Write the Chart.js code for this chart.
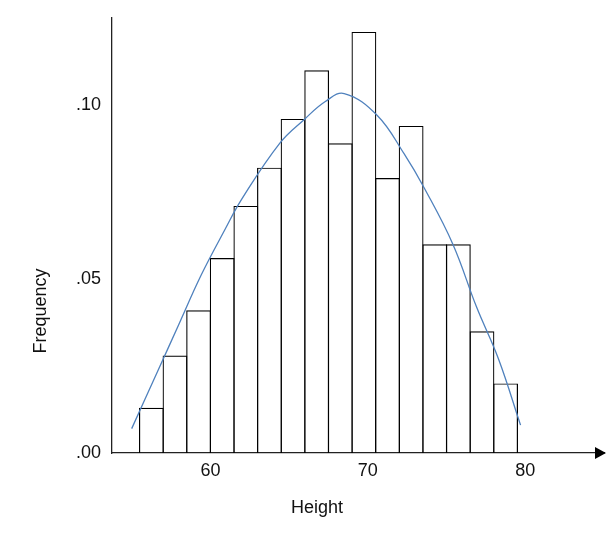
<!DOCTYPE html>
<html>
<head>
<meta charset="utf-8">
<script src="https://cdn.jsdelivr.net/npm/chart.js@4/dist/chart.umd.min.js"></script>
<style>
  html, body { margin: 0; padding: 0; background: #fff; }
  #wrap { width: 615px; height: 537px; }
</style>
</head>
<body>
<div id="wrap"><canvas id="hist" width="615" height="537"></canvas></div>
<script>
// ── Data ──────────────────────────────────────────────────────
const binCenters  = [56.25, 57.75, 59.25, 60.75, 62.25, 63.75, 65.25, 66.75,
                     68.25, 69.75, 71.25, 72.75, 74.25, 75.75, 77.25, 78.75];
const frequencies = [0.013, 0.028, 0.041, 0.056, 0.071, 0.082, 0.096, 0.110,
                     0.089, 0.121, 0.079, 0.094, 0.060, 0.060, 0.035, 0.020];

// fitted normal curve, sampled by eye
const curveX = [55.0, 56.7, 58.0, 59.4, 60.9, 62.0, 64.4, 66.0, 67.3,
                68.5, 70.6, 72.3, 73.6, 75.4, 76.9, 78.3, 79.7];
const curveY = [0.007, 0.024, 0.037, 0.051, 0.064, 0.073, 0.089, 0.096, 0.101,
                0.1033, 0.097, 0.086, 0.076, 0.060, 0.042, 0.027, 0.008];

const xTicks = [60, 70, 80];
const yTicks = [0, 0.05, 0.10];

const FONT = { family: '"Liberation Sans", Arial, sans-serif', size: 18 };

// ── Arrow head + axis titles ──────────────────────────────────
const extras = {
  id: 'extras',
  afterDraw(chart) {
    const { ctx, chartArea } = chart;
    const y = chartArea.bottom;
    const x = chartArea.right;
    ctx.save();
    ctx.fillStyle = '#000';
    ctx.beginPath();
    ctx.moveTo(x + 2, y);
    ctx.lineTo(x - 9, y - 6);
    ctx.lineTo(x - 9, y + 6);
    ctx.closePath();
    ctx.fill();

    ctx.font = `${FONT.size}px ${FONT.family}`;
    ctx.fillStyle = '#111';
    ctx.textAlign = 'center';
    ctx.textBaseline = 'middle';
    ctx.fillText('Height', 317, 508);

    ctx.translate(41, 311);
    ctx.rotate(-Math.PI / 2);
    ctx.fillText('Frequency', 0, 0);
    ctx.restore();
  }
};

new Chart(document.getElementById('hist').getContext('2d'), {
  type: 'bar',
  data: {
    datasets: [
      {
        type: 'line',
        data: curveX.map((x, i) => ({ x, y: curveY[i] })),
        borderColor: '#4f81bd',
        borderWidth: 1.3,
        pointRadius: 0,
        fill: false,
        tension: 0.4,
        order: 0,
      },
      {
        data: binCenters.map((x, i) => ({ x, y: frequencies[i] })),
        backgroundColor: 'rgba(0,0,0,0)',
        borderColor: '#000',
        borderWidth: 1.2,
        categoryPercentage: 1,
        barPercentage: 1.05,
        order: 1,
      },
    ],
  },
  options: {
    responsive: false,
    animation: false,
    layout: { padding: { top: 18, right: 11, left: 0, bottom: 0 } },
    plugins: { legend: { display: false }, tooltip: { enabled: false } },
    scales: {
      x: {
        type: 'linear',
        min: 53.75, max: 85,
        offset: false,
        grid: { display: false, offset: false, drawTicks: false },
        border: { display: true, color: '#222', width: 1.3 },
        afterBuildTicks: s => { s.ticks = xTicks.map(v => ({ value: v })); },
        afterFit: s => { s.height = 84; },
        ticks: { font: FONT, color: '#111', padding: 7, maxRotation: 0,
                 callback: v => String(v) },
      },
      y: {
        min: 0, max: 0.125,
        grid: { display: false, drawTicks: false },
        border: { display: true, color: '#222', width: 1.3 },
        afterBuildTicks: s => { s.ticks = yTicks.map(v => ({ value: v })); },
        afterFit: s => { s.width = 112; s.paddingTop = 0; s.paddingBottom = 0; },
        ticks: { font: FONT, color: '#111', padding: 11,
                 callback: v => Number(v).toFixed(2).replace(/^0/, '') },
      },
    },
  },
  plugins: [extras],
});
</script>
</body>
</html>
